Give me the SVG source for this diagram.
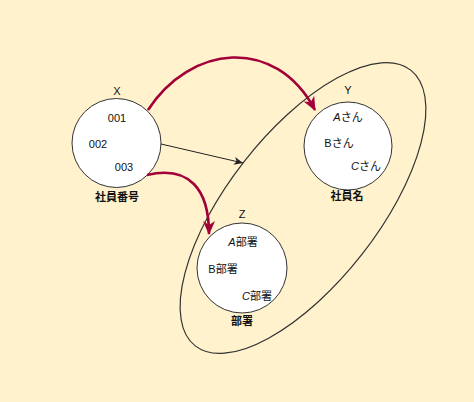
<svg xmlns="http://www.w3.org/2000/svg" width="474" height="402" viewBox="0 0 474 402">
<style>
.bg{fill:#FFF2CC}
.set{fill:none;stroke:#333;stroke-width:1.2}
.node{fill:#fff;stroke:#333;stroke-width:1}
.t{font-family:"Liberation Sans","Noto Sans CJK JP",sans-serif;font-size:11px;fill:#111;text-anchor:middle}
.lbl{font-family:"Liberation Sans","Noto Sans CJK JP",sans-serif;font-size:11px;font-weight:bold;fill:#111;text-anchor:middle}
.red{fill:none;stroke:#A20038;stroke-width:2.6}
.blk{fill:none;stroke:#222;stroke-width:1}
</style>
<defs>
<marker id="mr" markerUnits="userSpaceOnUse" markerWidth="14" markerHeight="12" viewBox="0 0 14 12" refX="13" refY="6" orient="auto">
<path d="M0,0 L14,6 L0,12 L4,6 z" fill="#A20038"/>
</marker>
<marker id="mb" markerUnits="userSpaceOnUse" markerWidth="9" markerHeight="8" viewBox="0 0 9 8" refX="9" refY="4" orient="auto">
<path d="M0,0 L9,4 L0,8 L2.5,4 z" fill="#222"/>
</marker>
</defs>
<rect class="bg" x="0" y="0" width="474" height="402"/>
<g id="set-YZ">
<ellipse class="set" cx="303" cy="208" rx="175" ry="75" transform="rotate(-52 303 208)"/>
</g>
<g id="node-X">
<text class="t" x="117" y="95">X</text>
<circle class="node" cx="116.5" cy="143" r="44.5"/>
<text class="t" x="117" y="122">001</text>
<text class="t" x="98" y="148">002</text>
<text class="t" x="124" y="171">003</text>
<text class="lbl" x="117" y="201">社員番号</text>
</g>
<g id="node-Y">
<text class="t" x="348" y="94">Y</text>
<circle class="node" cx="348" cy="146" r="44"/>
<text class="t" x="348" y="121"><tspan font-style="italic">A</tspan>さん</text>
<text class="t" x="339" y="147">Bさん</text>
<text class="t" x="366" y="170"><tspan font-style="italic">C</tspan>さん</text>
<text class="lbl" x="347" y="200">社員名</text>
</g>
<g id="node-Z">
<text class="t" x="242" y="218">Z</text>
<circle class="node" cx="242" cy="268" r="45"/>
<text class="t" x="243" y="246"><tspan font-style="italic">A</tspan>部署</text>
<text class="t" x="223" y="273">B部署</text>
<text class="t" x="257" y="300"><tspan font-style="italic">C</tspan>部署</text>
<text class="lbl" x="242" y="325">部署</text>
</g>
<g id="connectors">
<path class="red" d="M148,110 C190,45 275,35 315,110" marker-end="url(#mr)"/>
<path class="red" d="M147,175 C190,165 209,190 209,234" marker-end="url(#mr)"/>
<path class="blk" d="M161,144 L243,163" marker-end="url(#mb)"/>
</g>
</svg>
